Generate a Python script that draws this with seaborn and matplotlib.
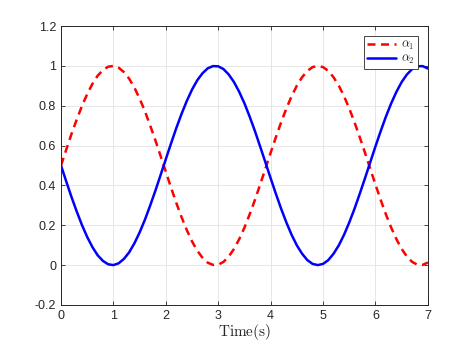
import numpy as np
import pandas as pd
import matplotlib
matplotlib.use("Agg")
import matplotlib.pyplot as plt
import seaborn as sns

t = [round(0.1 * i, 1) for i in range(71)]
alpha1 = [0.500, 0.580, 0.658, 0.731, 0.799, 0.859, 0.910, 0.951, 0.979, 0.996,
          1.000, 0.991, 0.969, 0.936, 0.891, 0.836, 0.773, 0.702, 0.627, 0.548,
          0.468, 0.389, 0.312, 0.241, 0.176, 0.119, 0.072, 0.037, 0.012, 0.001,
          0.002, 0.016, 0.043, 0.081, 0.130, 0.188, 0.255, 0.327, 0.405, 0.484,
          0.564, 0.642, 0.717, 0.786, 0.848, 0.901, 0.943, 0.975, 0.994, 1.000,
          0.994, 0.975, 0.943, 0.901, 0.848, 0.786, 0.717, 0.642, 0.564, 0.484,
          0.404, 0.327, 0.254, 0.188, 0.130, 0.081, 0.043, 0.016, 0.002, 0.001,
          0.013]
alpha2 = [0.500, 0.420, 0.342, 0.269, 0.201, 0.141, 0.090, 0.049, 0.021, 0.004,
          0.000, 0.009, 0.031, 0.064, 0.109, 0.164, 0.227, 0.298, 0.373, 0.452,
          0.532, 0.611, 0.688, 0.759, 0.824, 0.881, 0.928, 0.963, 0.988, 0.999,
          0.998, 0.984, 0.957, 0.919, 0.870, 0.812, 0.745, 0.673, 0.595, 0.516,
          0.436, 0.358, 0.283, 0.214, 0.152, 0.099, 0.057, 0.025, 0.006, 0.000,
          0.006, 0.025, 0.057, 0.099, 0.152, 0.214, 0.283, 0.358, 0.436, 0.516,
          0.596, 0.673, 0.746, 0.812, 0.870, 0.919, 0.957, 0.984, 0.998, 0.999,
          0.987]
series_labels = [r'$\alpha_1$', r'$\alpha_2$']
xticks = [0, 1, 2, 3, 4, 5, 6, 7]
yticks = [-0.2, 0, 0.2, 0.4, 0.6, 0.8, 1, 1.2]
ytick_labels = ['-0.2', '0', '0.2', '0.4', '0.6', '0.8', '1', '1.2']

sns.set_style("white")
plt.rcParams['font.family'] = ['Liberation Sans', 'DejaVu Sans']
plt.rcParams['mathtext.fontset'] = 'cm'

df = pd.DataFrame({
    't': t + t,
    'value': alpha1 + alpha2,
    'series': [series_labels[0]] * len(t) + [series_labels[1]] * len(t),
})

fig = plt.figure(figsize=(4.74, 3.43), dpi=100)
ax = fig.add_axes([0.1287, 0.111, 0.774, 0.813])

sns.lineplot(data=df, x='t', y='value', hue='series', style='series',
             palette={series_labels[0]: '#ff0000', series_labels[1]: '#0000ff'},
             dashes={series_labels[0]: (3.2, 2.2), series_labels[1]: ''},
             linewidth=1.8, ax=ax, legend=True)

ax.set_xlim(0, 7)
ax.set_ylim(-0.2, 1.2)
ax.set_xticks(xticks)
ax.set_xticklabels([str(v) for v in xticks])
ax.set_yticks(yticks)
ax.set_yticklabels(ytick_labels)
ax.grid(True, color='#e3e3e3', linewidth=0.6)
ax.set_axisbelow(True)
for s in ax.spines.values():
    s.set_visible(True)
    s.set_color('#262626')
    s.set_linewidth(0.7)
ax.tick_params(direction='in', length=3, width=0.6, colors='#262626',
               labelsize=9, top=True, right=True, bottom=True, left=True,
               labeltop=False, labelright=False)
ax.set_xlabel(r'$\mathrm{Time(s)}$', fontsize=11, labelpad=0, color='#262626')
ax.set_ylabel('')

leg = ax.legend(loc='upper right', fontsize=9, frameon=True, fancybox=False,
                edgecolor='#262626', framealpha=1, borderpad=0.25,
                handlelength=2.3, handletextpad=0.4, labelspacing=0.05,
                borderaxespad=0.8)
leg.get_frame().set_linewidth(0.6)

fig.savefig('out.png', dpi=100)
